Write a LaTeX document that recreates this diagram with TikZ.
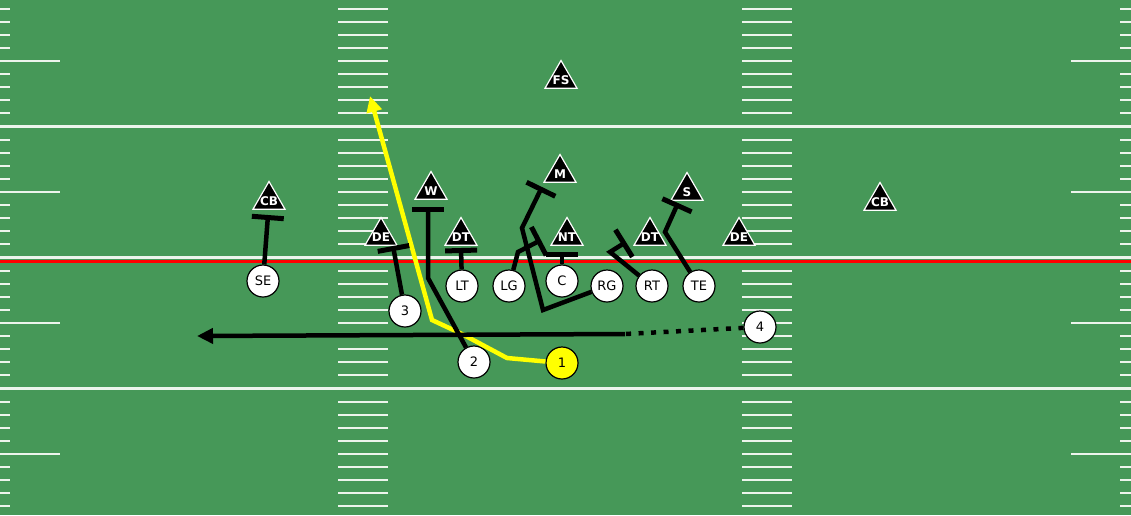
\documentclass[tikz,border=0pt]{standalone}
\usepackage{fontspec}
\setmainfont{DejaVu Sans}
\usetikzlibrary{arrows.meta,shapes.geometric}
\definecolor{turf}{RGB}{70,152,88}
\definecolor{chalk}{RGB}{236,244,236}
\definecolor{losred}{RGB}{255,0,0}
\definecolor{routeyellow}{RGB}{255,255,0}
\begin{document}
\begin{tikzpicture}[x=1pt,y=-1pt,
  off/.style={circle,draw=black,line width=1.2pt,fill=white,minimum size=32pt,inner sep=0pt,font=\fontsize{13}{13}\selectfont},
  ball/.style={off,fill=routeyellow},
  def/.style={regular polygon,regular polygon sides=3,fill=black,draw=white,line width=1.2pt,minimum size=37pt,inner sep=0pt},
  dlab/.style={text=white,font=\bfseries\fontsize{12}{12}\selectfont,inner sep=0pt,yshift=-1pt},
  hash/.style={draw=chalk,line width=2pt},
  yardline/.style={draw=chalk,line width=3pt},
  block/.style={draw=black,line width=4.5pt,-{Bar[width=32pt,line width=5pt]}},
  motion/.style={draw=black,line width=4.5pt,dash pattern=on 5pt off 7.5pt},
  runline/.style={draw=black,line width=4.5pt,-{Triangle[length=16pt,width=15pt]}},
  yroute/.style={draw=routeyellow,line width=4.5pt,-{Triangle[length=16pt,width=15pt]}}
]
\useasboundingbox (0,0) rectangle (1131,515);
\fill[turf] (0,0) rectangle (1131,515);
% hash marks
\foreach \j in {-1,0,1,2}{
  \foreach \k in {1,...,9}{
    \draw[hash] (0,{126.5+131*\j+13.1*\k}) -- ++(10,0);
    \draw[hash] (338,{126.5+131*\j+13.1*\k}) -- ++(50,0);
    \draw[hash] (742,{126.5+131*\j+13.1*\k}) -- ++(50,0);
    \draw[hash] (1120,{126.5+131*\j+13.1*\k}) -- ++(11,0);
  }
  \draw[hash] (0,{192+131*\j}) -- ++(60,0);
  \draw[hash] (1071,{192+131*\j}) -- ++(60,0);
}
% yard lines
\draw[yardline] (0,126.5) -- (1131,126.5);
\draw[yardline] (0,257.5) -- (1131,257.5);
\draw[yardline] (0,388.5) -- (1131,388.5);
\draw[losred,line width=3.5pt] (0,261.5) -- (1131,261.5);

% offense
\node[off] (SE) at (263,281) {SE};
\node[off] (p3) at (405,311) {3};
\node[off] (LT) at (462,286) {LT};
\node[off] (LG) at (509,286) {LG};
\node[off] (C) at (562,281) {C};
\node[off] (RG) at (607,286) {RG};
\node[off] (RT) at (652,286) {RT};
\node[off] (TE) at (699,286) {TE};
\node[off] (p2) at (474,362) {2};
\node[ball] (p1) at (562,363) {1};
\node[off] (p4) at (760,327) {4};

% defense
\node[def,label={[dlab]center:FS}] (FS) at (561,79) {};
\node[def,label={[dlab]center:M}] (M) at (560,173) {};
\node[def,label={[dlab]center:W}] (W) at (431,190) {};
\node[def,label={[dlab]center:CB}] (CBL) at (269,200) {};
\node[def,label={[dlab]center:DE}] (DEL) at (381,236) {};
\node[def,label={[dlab]center:DT}] (DTL) at (461,236) {};
\node[def,label={[dlab]center:NT}] (NT) at (567,236) {};
\node[def,label={[dlab]center:DT}] (DTR) at (650,236) {};
\node[def,label={[dlab]center:DE}] (DER) at (739,236) {};
\node[def,label={[dlab]center:S}] (S) at (687,191) {};
\node[def,label={[dlab]center:CB}] (CBR) at (880,201) {};

% route points
\coordinate (y1) at (507,358);
\coordinate (y2) at (462,334);
\coordinate (y3) at (432,320);
\coordinate (ytip) at (370,96);
\coordinate (seT) at (268,215);
\coordinate (p3T) at (393,246);
\coordinate (p2a) at (428,278);
\coordinate (p2T) at (428,207);
\coordinate (ltT) at (461,248);
\coordinate (lga) at (518,252);
\coordinate (lgT) at (541,240);
\coordinate (cT) at (562,252);
\coordinate (rga) at (543,310);
\coordinate (rgb) at (522,228);
\coordinate (rgT) at (542,187);
\coordinate (rta) at (610,252);
\coordinate (rtT) at (626,242);
\coordinate (tea) at (665,232);
\coordinate (teT) at (678,203);
\coordinate (m1) at (625,334);
\coordinate (mend) at (197,336);

% yellow route
\draw[yroute] (p1) -- (y1) -- (y2) -- (y3) -- (ytip);
% blocks
\draw[block] (SE) -- (seT);
\draw[block] (p3) -- (p3T);
\draw[block] (p2) -- (p2a) -- (p2T);
\draw[block] (LT) -- (ltT);
\draw[block] (LG) -- (lga) -- (lgT);
\draw[block] (C) -- (cT);
\draw[block] (RG) -- (rga) -- (rgb) -- (rgT);
\draw[block] (RT) -- (rta) -- (rtT);
\draw[block] (TE) -- (tea) -- (teT);
% motion
\draw[motion] (p4) -- (m1);
\draw[runline] (m1) -- (mend);
\end{tikzpicture}
\end{document}
